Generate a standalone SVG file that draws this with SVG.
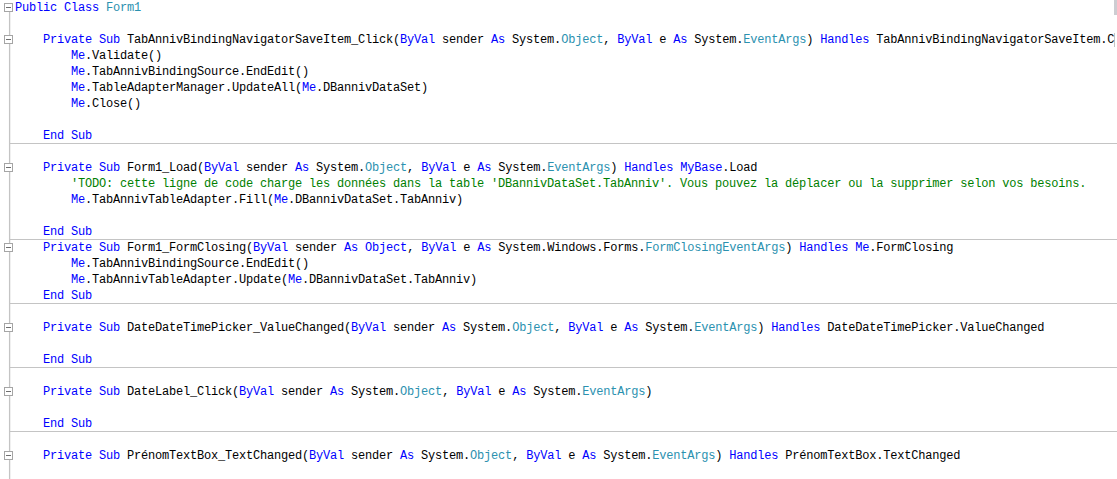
<svg xmlns="http://www.w3.org/2000/svg" width="1117" height="479" viewBox="0 0 1117 479">
<style>
text{font-family:"Liberation Mono","DejaVu Sans Mono",monospace;font-size:12px;letter-spacing:-.2px;fill:#000;white-space:pre}
.k{fill:#0000ff}.t{fill:#2b91af}.c{fill:#008000}
.sep{stroke:#c4c4c4;stroke-width:1;fill:none}
.fold{fill:#fff;stroke:#a5a5a5;stroke-width:1}
.minus{stroke:#6e6e6e;stroke-width:1}
</style>
<defs>
<g id="f"><rect class="fold" x="4.5" y="0.5" width="8" height="8"/><path class="minus" d="M6 4.500h5"/></g>
</defs>
<rect width="1117" height="479" fill="#fff"/>
<path class="sep" stroke-width="1.300" style="stroke-width:1.300px" d="M9.600 12V479"/>
<path class="sep" d="M10 143.500H1117M10 239.500H1117M10 303.500H1117M10 367.500H1117M10 431.500H1117"/>
<rect x="1114" y="0" width="3" height="15" fill="#cdcdd2"/>
<path class="sep" d="M1114.500 33V47"/>
<use href="#f" y="3"/><use href="#f" y="35"/><use href="#f" y="163"/><use href="#f" y="243"/><use href="#f" y="323"/><use href="#f" y="387"/><use href="#f" y="451"/>
<text x="15" y="11"><tspan class="k">Public Class </tspan><tspan class="t">Form1</tspan></text>
<text x="43" y="43"><tspan class="k">Private Sub </tspan>TabAnnivBindingNavigatorSaveItem_Click(<tspan class="k">ByVal</tspan> sender <tspan class="k">As</tspan> System.<tspan class="t">Object</tspan>, <tspan class="k">ByVal</tspan> e <tspan class="k">As</tspan> System.<tspan class="t">EventArgs</tspan>) <tspan class="k">Handles</tspan> TabAnnivBindingNavigatorSaveItem.C</text>
<text x="71" y="59"><tspan class="k">Me</tspan>.Validate()</text>
<text x="71" y="75"><tspan class="k">Me</tspan>.TabAnnivBindingSource.EndEdit()</text>
<text x="71" y="91"><tspan class="k">Me</tspan>.TableAdapterManager.UpdateAll(<tspan class="k">Me</tspan>.DBannivDataSet)</text>
<text x="71" y="107"><tspan class="k">Me</tspan>.Close()</text>
<text x="43" y="139" class="k">End Sub</text>
<text x="43" y="171"><tspan class="k">Private Sub </tspan>Form1_Load(<tspan class="k">ByVal</tspan> sender <tspan class="k">As</tspan> System.<tspan class="t">Object</tspan>, <tspan class="k">ByVal</tspan> e <tspan class="k">As</tspan> System.<tspan class="t">EventArgs</tspan>) <tspan class="k">Handles</tspan> <tspan class="k">MyBase</tspan>.Load</text>
<text x="71" y="187" class="c">'TODO: cette ligne de code charge les données dans la table 'DBannivDataSet.TabAnniv'. Vous pouvez la déplacer ou la supprimer selon vos besoins.</text>
<text x="71" y="203"><tspan class="k">Me</tspan>.TabAnnivTableAdapter.Fill(<tspan class="k">Me</tspan>.DBannivDataSet.TabAnniv)</text>
<text x="43" y="235" class="k">End Sub</text>
<text x="43" y="251"><tspan class="k">Private Sub </tspan>Form1_FormClosing(<tspan class="k">ByVal</tspan> sender <tspan class="k">As</tspan> <tspan class="k">Object</tspan>, <tspan class="k">ByVal</tspan> e <tspan class="k">As</tspan> System.Windows.Forms.<tspan class="t">FormClosingEventArgs</tspan>) <tspan class="k">Handles</tspan> <tspan class="k">Me</tspan>.FormClosing</text>
<text x="71" y="267"><tspan class="k">Me</tspan>.TabAnnivBindingSource.EndEdit()</text>
<text x="71" y="283"><tspan class="k">Me</tspan>.TabAnnivTableAdapter.Update(<tspan class="k">Me</tspan>.DBannivDataSet.TabAnniv)</text>
<text x="43" y="299" class="k">End Sub</text>
<text x="43" y="331"><tspan class="k">Private Sub </tspan>DateDateTimePicker_ValueChanged(<tspan class="k">ByVal</tspan> sender <tspan class="k">As</tspan> System.<tspan class="t">Object</tspan>, <tspan class="k">ByVal</tspan> e <tspan class="k">As</tspan> System.<tspan class="t">EventArgs</tspan>) <tspan class="k">Handles</tspan> DateDateTimePicker.ValueChanged</text>
<text x="43" y="363" class="k">End Sub</text>
<text x="43" y="395"><tspan class="k">Private Sub </tspan>DateLabel_Click(<tspan class="k">ByVal</tspan> sender <tspan class="k">As</tspan> System.<tspan class="t">Object</tspan>, <tspan class="k">ByVal</tspan> e <tspan class="k">As</tspan> System.<tspan class="t">EventArgs</tspan>)</text>
<text x="43" y="427" class="k">End Sub</text>
<text x="43" y="459"><tspan class="k">Private Sub </tspan>PrénomTextBox_TextChanged(<tspan class="k">ByVal</tspan> sender <tspan class="k">As</tspan> System.<tspan class="t">Object</tspan>, <tspan class="k">ByVal</tspan> e <tspan class="k">As</tspan> System.<tspan class="t">EventArgs</tspan>) <tspan class="k">Handles</tspan> PrénomTextBox.TextChanged</text>
</svg>
